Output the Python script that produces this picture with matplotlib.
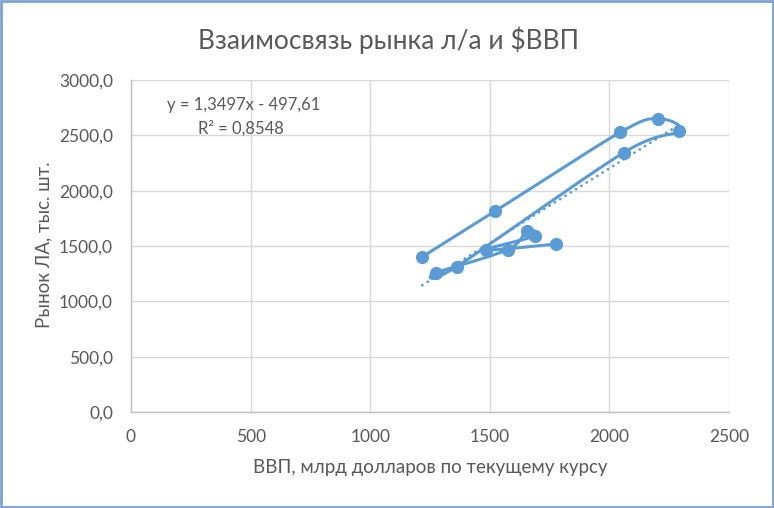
import numpy as np
import matplotlib
matplotlib.use("Agg")
import matplotlib.pyplot as plt
from matplotlib.patches import Rectangle

# Data (GDP, $ bn) vs car market (thousand units), chronological order
gdp = [1218, 1523, 2045, 2204, 2293, 2059, 1361, 1273, 1575, 1655, 1690, 1486, 1778]
market = [1403, 1816, 2527, 2650, 2539, 2343, 1313, 1260, 1468, 1638, 1591, 1466, 1518]
trend_slope = 1.3497
trend_icept = -497.61
trend_r2 = 0.8548

title = "Взаимосвязь рынка л/а и $ВВП"
xlabel = "ВВП, млрд долларов по текущему курсу"
ylabel = "Рынок ЛА, тыс. шт."
xticks = [0, 500, 1000, 1500, 2000, 2500]
yticks = [0, 500, 1000, 1500, 2000, 2500, 3000]

plt.rcParams['font.family'] = ['Lato', 'DejaVu Sans']
blue = '#5B9BD5'
grey_txt = '#595959'
grid_c = '#D9D9D9'

W, H = 774, 508
fig = plt.figure(figsize=(W / 100, H / 100), dpi=100)
ax = fig.add_axes([131 / W, (H - 412) / H, (729 - 131) / W, (412 - 80) / H])
ax.set_xlim(0, 2500)
ax.set_ylim(0, 3000)

# Catmull-Rom style smoothing in pixel space (like Excel smoothed line)
fig.canvas.draw()
pts = ax.transData.transform(np.column_stack([gdp, market]))
P = np.vstack([pts[0], pts, pts[-1]])
curve = []
for i in range(1, len(P) - 2):
    p0, p1, p2, p3 = P[i - 1], P[i], P[i + 1], P[i + 2]
    c1 = p1 + (p2 - p0) / 6.0
    c2 = p2 - (p3 - p1) / 6.0
    t = np.linspace(0, 1, 40)[:, None]
    seg = ((1 - t) ** 3) * p1 + 3 * ((1 - t) ** 2) * t * c1 + 3 * (1 - t) * t ** 2 * c2 + t ** 3 * p2
    curve.append(seg if i == 1 else seg[1:])
curve = np.vstack(curve)
curve_d = ax.transData.inverted().transform(curve)

ax.plot(curve_d[:, 0], curve_d[:, 1], color=blue, lw=2.2, solid_capstyle='round', zorder=3)
ax.plot(gdp, market, 'o', color=blue, ms=8.5, zorder=4)

# trendline
tx = np.array([min(gdp), max(gdp)])
ax.plot(tx, trend_slope * tx + trend_icept, color=blue, lw=2.0,
        linestyle=(0, (0.05, 2.2)), dash_capstyle='round', zorder=2)

ax.set_xticks(xticks)
ax.set_yticks(yticks)
ax.set_xticklabels([str(v) for v in xticks])
ax.set_yticklabels([f"{v:.1f}".replace('.', ',') for v in yticks])
ax.grid(True, color=grid_c, lw=1)
ax.set_axisbelow(True)
for s in ['top', 'right']:
    ax.spines[s].set_visible(False)
ax.spines['left'].set_color('#BFBFBF')
ax.spines['bottom'].set_color('#BFBFBF')
ax.spines['left'].set_linewidth(1)
ax.spines['bottom'].set_linewidth(1)
ax.tick_params(length=0, labelsize=12.5, colors=grey_txt)
ax.tick_params(axis='y', pad=13)
ax.tick_params(axis='x', pad=12)

fig.text(388 / W, 1 - 40 / H, title, ha='center', va='center', fontsize=19, color=grey_txt)
fig.text(430 / W, 1 - 468 / H, xlabel, ha='center', va='center', fontsize=13.5, color=grey_txt)
fig.text(44 / W, 1 - 245 / H, ylabel, ha='center', va='center', fontsize=13.5,
         color=grey_txt, rotation=90)

eq = f"y = {trend_slope:.4f}x - {-trend_icept:.2f}".replace('.', ',')
r2 = f"R² = {trend_r2:.4f}".replace('.', ',')
fig.text(244 / W, 1 - 105 / H, eq, ha='center', va='center', fontsize=12, color=grey_txt)
fig.text(241 / W, 1 - 128 / H, r2, ha='center', va='center', fontsize=12, color=grey_txt)

fig.patches.append(Rectangle((1 / W, 1 / H), 1 - 2 / W, 1 - 2 / H, transform=fig.transFigure,
                             fill=False, edgecolor='#7BA3D2', lw=2, zorder=10))

fig.savefig('out.png', dpi=100)
